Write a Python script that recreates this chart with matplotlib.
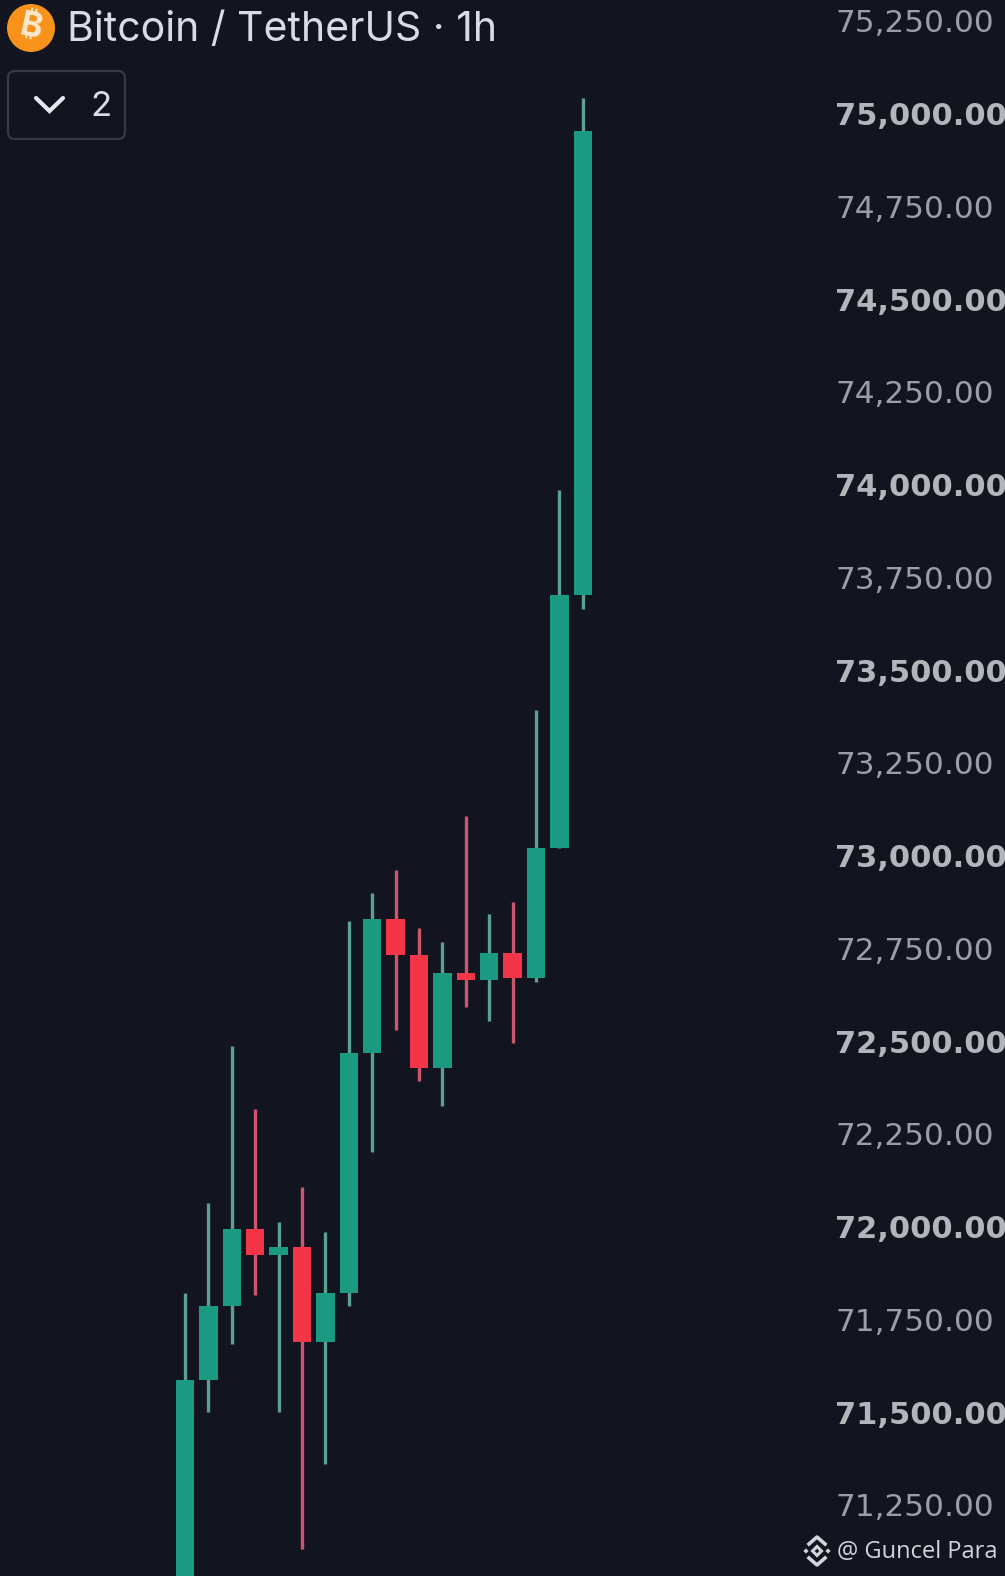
import matplotlib
matplotlib.use("Agg")
import matplotlib.pyplot as plt
from matplotlib import font_manager as fm
from matplotlib.ft2font import FT2Font
from matplotlib.patches import FancyBboxPatch, Circle, Polygon
from matplotlib.ticker import FixedLocator, FixedFormatter

candles = list(range(18))
opens  = [70900, 71586, 71786, 71992, 71922, 71946, 71689, 71822, 72467, 72830, 72732, 72426, 72683, 72664, 72738, 72670, 73019, 73702]
closes = [71586, 71786, 71992, 71922, 71946, 71689, 71822, 72467, 72830, 72732, 72426, 72683, 72664, 72738, 72670, 73019, 73702, 74954]
highs  = [71822, 72063, 72486, 72318, 72011, 72106, 71984, 72824, 72900, 72960, 72805, 72767, 73106, 72843, 72876, 73393, 73984, 75041]
lows   = [70850, 71499, 71684, 71816, 71499, 71131, 71361, 71786, 72201, 72529, 72391, 72326, 72591, 72553, 72494, 72659, 73019, 73664]
price_ticks = [71250 + 250 * i for i in range(17)]
price_labels = [f"{p:,.2f}" for p in price_ticks]
title = "Bitcoin / TetherUS · 1h"
badge_count = "2"
watermark = "@ Guncel Para"

BG = "#12151F"
UP, DOWN = "#199A81", "#F23648"
UP_WICK, DOWN_WICK = "#5E9F94", "#CC566C"

W, H = 1005, 1576
fig = plt.figure(figsize=(W / 100, H / 100), dpi=100, facecolor=BG)
ax = fig.add_axes([0, 0, 1, 1], facecolor=BG)

up = [c >= o for o, c in zip(opens, closes)]
ax.vlines(candles, lows, highs, colors=[UP_WICK if u else DOWN_WICK for u in up], linewidth=2.4, zorder=2)
ax.bar(candles, [abs(c - o) for o, c in zip(opens, closes)], bottom=[min(o, c) for o, c in zip(opens, closes)],
       width=0.79, color=[UP if u else DOWN for u in up], linewidth=0, zorder=3)

ax.set_xlim(-7.906, 35.04)
ax.set_ylim(71058, 75306)
for s in ax.spines.values():
    s.set_visible(False)
ax.set_xticks([])
ax.yaxis.tick_right()
ax.yaxis.set_major_locator(FixedLocator(price_ticks))
ax.yaxis.set_major_formatter(FixedFormatter(price_labels))
ax.tick_params(axis="y", length=0, pad=-122.2)
for i, lab in enumerate(ax.get_yticklabels()):
    bold = price_ticks[i] % 500 == 0
    lab.set_fontfamily("DejaVu Sans")
    lab.set_fontsize(22 if bold else 22.4)
    lab.set_ha("left")
    lab.set_fontweight("bold" if bold else "normal")
    lab.set_color("#B4B5BA" if bold else "#9C9EA5")

ov = fig.add_axes([0, 0, 1, 1], facecolor="none")
ov.set_xlim(0, W)
ov.set_ylim(H, 0)
ov.axis("off")

def btc_family():
    for fam in ["Inter", "Roboto", "Noto Sans", "Open Sans", "Lato", "Liberation Sans"]:
        path = fm.findfont(fam, fallback_to_default=False)
        if FT2Font(path).get_char_index(0x20BF):
            return fam
    return None

ov.add_patch(Circle((31, 28), 24, fc="#F7931A", ec="none"))
fam = btc_family()
if fam:
    ov.text(31, 28, "₿", family=fam, fontweight="bold", fontsize=24, color="#FBE9CF",
            ha="center", va="center", rotation=-12)
else:
    ov.text(31, 28, "B", family="Open Sans", fontweight="bold", fontsize=23, color="#FBE9CF",
            ha="center", va="center", rotation=-12)
ov.text(67, 30, title, family="Inter", fontsize=29.5, color="#D9DCE4", ha="left", va="center")

ov.add_patch(FancyBboxPatch((8, 71), 117, 68, boxstyle="round,pad=0,rounding_size=7", mutation_aspect=1,
                            fc="none", ec="#363A45", lw=1.6))
ov.plot([36, 49.5, 63], [98, 111, 98], color="#E6E8EE", lw=3.0, solid_capstyle="round", solid_joinstyle="miter")
ov.text(101, 107, badge_count, family="Inter", fontsize=25, color="#D9DCE4", ha="center", va="center")

ix, iy = 817, 1551
wm = "#D2D4D9"
def diamond(cx, cy, r, **kw):
    ov.add_patch(Polygon([(cx, cy - r), (cx + r, cy), (cx, cy + r), (cx - r, cy)], closed=True, **kw))
diamond(ix, iy, 4.5, fc="none", ec=wm, lw=2.2)
diamond(ix - 11, iy, 2.6, fc=wm, ec="none")
diamond(ix + 11, iy, 2.6, fc=wm, ec="none")
ov.plot([ix - 8, ix, ix + 8], [iy - 7, iy - 14, iy - 7], color=wm, lw=2.6)
ov.plot([ix - 8, ix, ix + 8], [iy + 7, iy + 14, iy + 7], color=wm, lw=2.6)
ov.text(837, 1552, watermark, family="Open Sans", fontsize=17, color=wm, ha="left", va="center")

fig.savefig("out.png", dpi=100, facecolor=BG)
